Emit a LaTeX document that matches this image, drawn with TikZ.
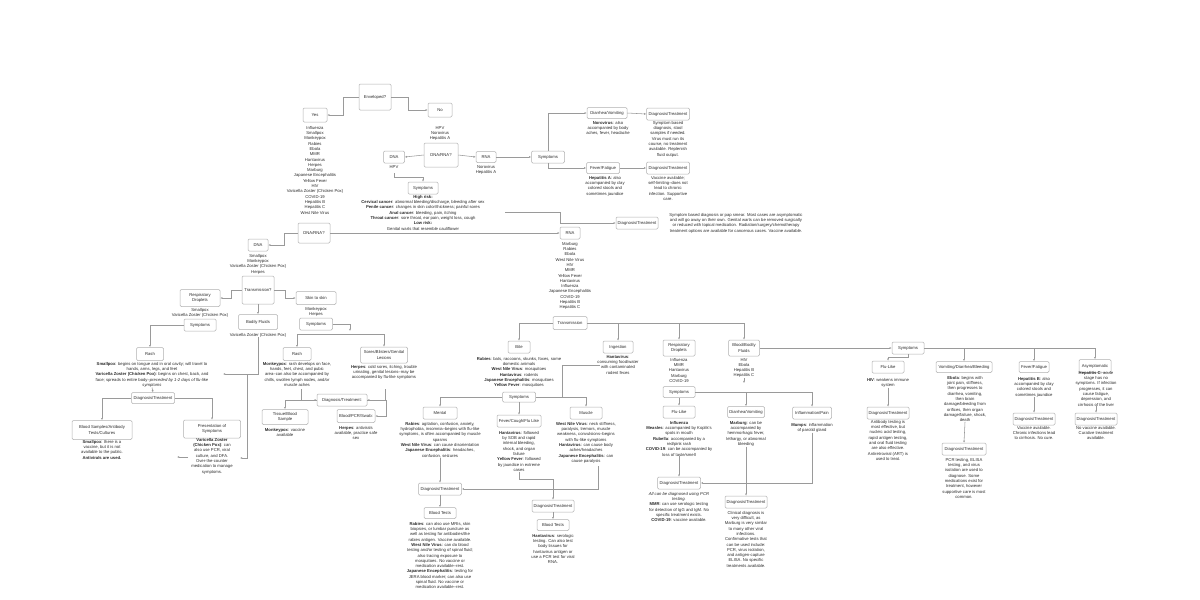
\documentclass[tikz,border=0pt]{standalone}
\usepackage{fontspec}
\setmainfont{Liberation Sans}
\usetikzlibrary{arrows.meta}
\newcommand\fs{\fontsize{4.2}{5.3}\selectfont}
\definecolor{lc}{HTML}{9A9A9A}
\definecolor{bc}{HTML}{B0B0B0}
\definecolor{tc}{HTML}{2B2B2B}
\tikzset{
 box/.style={draw=bc, line width=0.5pt, rounded corners=1.2pt, fill=white, font=\fs, text=tc, align=center, inner sep=0.5pt},
 txt/.style={font=\fs, text=tc, align=center, inner sep=0pt, anchor=north, yshift=2pt},
 ln/.style={draw=lc, line width=0.55pt},
 arr/.style={ln, -{Latex[length=2.2pt,width=2pt]}},
}
\newcommand\bx[6]{\node[box,minimum width=#4pt,minimum height=#5pt] (#1) at (#2,#3) {#6};}
\begin{document}
\begin{tikzpicture}[x=1pt,y=-1pt]
\fill[white] (0,0) rectangle (1200,600);
\useasboundingbox (0,0) rectangle (1200,600);
% ---------- boxes ----------
\bx{env}{375}{97}{32}{26}{Enveloped?}
\bx{yes}{315}{115}{24}{14}{Yes}
\bx{no}{440}{110}{24}{14}{No}
\bx{dnarna1}{441}{155}{34}{24}{DNA/RNA?}
\bx{dna1}{394}{157}{21}{12}{DNA}
\bx{rna1}{486}{157}{20}{11}{RNA}
\bx{sym1}{548}{157}{33}{12}{Symptoms}
\bx{dv1}{607}{113}{40}{11}{Diarrhea/Vomiting}
\bx{ff1}{603}{168}{33}{11}{Fever/Fatigue}
\bx{dt1}{668}{114}{43}{12}{Diagnosis/Treatment}
\bx{dt2}{668}{168}{43}{12}{Diagnosis/Treatment}
\bx{symhpv}{423}{188}{30}{12}{Symptoms}
\bx{dthpv}{637}{223}{42}{12}{Diagnosis/Treatment}
\bx{dnarna2}{314}{233}{32}{20}{DNA/RNA?}
\bx{rna2}{570}{233}{20}{12}{RNA}
\bx{dna2}{258}{245}{20}{12}{DNA}
\bx{trans1}{258}{290}{32}{28}{Transmission?}
\bx{resp1}{200}{298}{40}{17}{Respiratory\\Droplets}
\bx{skin}{316}{298}{40}{13}{Skin to skin}
\bx{bf}{258}{322}{39}{15}{Bodily Fluids}
\bx{symresp}{200}{325}{32}{12}{Symptoms}
\bx{symskin}{316}{324}{33}{12}{Symptoms}
\bx{rashL}{150}{354}{27}{13}{Rash}
\bx{rashM}{297}{354}{28}{13}{Rash}
\bx{sores}{384}{355}{47}{16}{Sores/Blisters/Genital\\Lesions}
\bx{dtL}{153}{398}{43}{11}{Diagnosis/Treatment}
\bx{dtM}{342}{400}{50}{12}{Diagnosis/Treatment:}
\bx{bsamp}{102}{430}{60}{19}{Blood Samples/Antibody\\Tests/Cultures}
\bx{pres}{212}{429}{57}{18}{Presentation of\\Symptoms}
\bx{tissue}{285}{417}{46}{15}{Tissue/Blood\\Sample}
\bx{bpcr}{356}{416}{38}{13}{Blood/PCR/Swab:}
\bx{trans2}{570}{323}{34}{13}{Transmission}
\bx{bite}{519}{347}{22}{12}{Bite}
\bx{ingest}{618}{347}{30}{12}{Ingestion}
\bx{respL}{679}{348}{32}{16}{Respiratory\\Droplets}
\bx{bbf}{744}{348}{31}{16}{Blood/Bodily\\Fluids}
\bx{sym3}{519}{397}{33}{10}{Symptoms}
\bx{mental}{440}{413}{34}{12}{Mental}
\bx{fcf}{519}{421}{44}{12}{Fever/Cough/Flu Like}
\bx{muscle}{586}{413}{32}{12}{Muscle}
\bx{dtMen}{440}{489}{43}{12}{Diagnosis/Treatment}
\bx{dtFev}{553}{506}{42}{12}{Diagnosis/Treatment}
\bx{btMen}{440}{513}{32}{11}{Blood Tests}
\bx{btFev}{553}{525}{32}{11}{Blood Tests}
\bx{sym4}{679}{392}{32}{11}{Symptoms}
\bx{fluL}{679}{412}{32}{12}{Flu-Like}
\bx{dvL}{746}{412}{37}{11}{Diarrhea/Vomiting}
\bx{infl}{812}{413}{39}{12}{Inflammation/Pain}
\bx{dtFlu}{679}{483}{43}{12}{Diagnosis/Treatment}
\bx{dtMar}{746}{502}{42}{12}{Diagnosis/Treatment}
\bx{sym5}{908}{348}{32}{12}{Symptoms}
\bx{flu5}{888}{367}{32}{12}{Flu-Like}
\bx{vdb}{964}{367}{56}{11}{Vomiting/Diarrhea/Bleeding}
\bx{ff5}{1034}{367}{30}{11}{Fever/Fatigue}
\bx{asym}{1095}{366}{32}{13}{Asymptomatic}
\bx{dtHIV}{888}{413}{42}{12}{Diagnosis/Treatment}
\bx{dtEb}{964}{449}{44}{12}{Diagnosis/Treatment}
\bx{dtHB}{1034}{419}{42}{12}{Diagnosis/Treatment}
\bx{dtHC}{1096}{419}{42}{12}{Diagnosis/Treatment}
% ---------- texts ----------
\node[txt] (tYes) at (315,128) {Influenza\\Smallpox\\Monkeypox\\Rabies\\Ebola\\MMR\\Hantavirus\\Herpes\\Marburg\\Japanese Encephalitis\\Yellow Fever\\HIV\\Varicella Zoster (Chicken Pox)\\COVID-19\\Hepatitis B\\Hepatitis C\\West Nile Virus};
\node[txt] (tNo) at (440,128) {HPV\\Norovirus\\Hepatitis A};
\node[txt] (tHPV) at (394,167) {HPV};
\node[txt] (tRNA1) at (486,167) {Norovirus\\Hepatitis A};
\node[txt] (tNoro) at (608,123) {\textbf{Norovirus}: also\\accompanied by body\\aches, fever, headache};
\node[txt] (tHepA) at (605,178) {\textbf{Hepatitis A}: also\\accompanied by clay\\colored stools and\\sometimes jaundice};
\node[txt] (tDT1) at (668,123) {Symptom based\\diagnosis, stool\\samples if needed.\\Virus must run its\\course, no treatment\\available. Replenish\\fluid output.};
\node[txt] (tDT2) at (668,178) {Vaccine available;\\self-limiting--does not\\lead to chronic\\infection. Supportive\\care.};
\node[txt] (tHigh) at (423,197) {\textbf{High risk:}\\\textbf{Cervical cancer}: abnormal bleeding/discharge, bleeding after sex\\\textbf{Penile cancer}: changes in skin color/thickness; painful sores\\\textbf{Anal cancer}: bleeding, pain, itching\\\textbf{Throat cancer}: sore throat, ear pain, weight loss, cough\\\textbf{Low risk:}\\Genital warts that resemble cauliflower};
\node[txt] (tHPVdt) at (736,215) {Symptom based diagnosis or pap smear. Most cases are asymptomatic\\and will go away on their own. Genital warts can be removed surgically\\or reduced with topical medication. Radiation/surgery/chemotherapy\\treatment options are available for cancerous cases. Vaccine available.};
\node[txt] (tDNA2) at (258,256) {Smallpox\\Monkeypox\\Varicella Zoster (Chicken Pox)\\Herpes};
\node[txt] (tResp1) at (200,310) {Smallpox\\Varicella Zoster (Chicken Pox)};
\node[txt] (tSkin) at (316,309) {Monkeypox\\Herpes};
\node[txt] (tBF) at (258,335) {Varicella Zoster (Chicken Pox)};
\node[txt] (tSmall) at (152,364) {\textbf{Smallpox}: begins on tongue and in oral cavity; will travel to\\hands, arms, legs, and feet\\\textbf{Varicella Zoster (Chicken Pox)}: begins on chest, back, and\\face; spreads to entire body--\textit{preceded by 1-2 days of flu-like}\\\textit{symptoms}};
\node[txt] (tMonk) at (297,364) {\textbf{Monkeypox}: rash develops on face,\\hands, feet, chest, and pubic\\area--can also be accompanied by\\chills, swollen lymph nodes, and/or\\muscle aches};
\node[txt] (tHerp) at (384,367) {\textbf{Herpes}: cold sores, itching, trouble\\urinating, genital lesions--may be\\accompanied by flu-like symptoms};
\node[txt] (tTiss) at (285,430) {\textbf{Monkeypox}: vaccine\\available};
\node[txt] (tBpcr) at (356,428) {\textbf{Herpes}: antivirals\\available, practice safe\\sex};
\node[txt] (tBsamp) at (102,442) {\textbf{Smallpox}: there is a\\vaccine, but it is not\\available to the public.\\\textbf{Antivirals are used.}};
\node[txt] (tPres) at (212,440) {\textbf{Varicella Zoster}\\\textbf{(Chicken Pox)}: can\\also use PCR, viral\\culture, and DFA.\\Over-the-counter\\medication to manage\\symptoms.};
\node[txt] (tRNA2) at (570,244) {Marburg\\Rabies\\Ebola\\West Nile Virus\\HIV\\MMR\\Yellow Fever\\Hantavirus\\Influenza\\Japanese Encephalitis\\COVID-19\\Hepatitis B\\Hepatitis C};
\node[txt] (tBite) at (519,359) {\textbf{Rabies}: bats, raccoons, skunks, foxes, some\\domestic animals\\\textbf{West Nile Virus}: mosquitoes\\\textbf{Hantavirus}: rodents\\\textbf{Japanese Encephalitis}: mosquitoes\\\textbf{Yellow Fever}: mosquitoes};
\node[txt] (tIng) at (618,357) {\textbf{Hantavirus}:\\consuming food/water\\with contaminated\\rodent feces};
\node[txt] (tResp2) at (679,360) {Influenza\\MMR\\Hantavirus\\Marburg\\COVID-19};
\node[txt] (tBBF) at (744,360) {HIV\\Ebola\\Hepatitis B\\Hepatitis C};
\node[txt] (tMental) at (440,424) {\textbf{Rabies}: agitation, confusion, anxiety,\\hydrophobia, insomnia--begins with flu-like\\symptoms, is often accompanied by muscle\\spasms\\\textbf{West Nile Virus}: can cause disorientation\\\textbf{Japanese Encephalitis}: headaches,\\confusion, seizures};
\node[txt] (tFcf) at (519,433) {\textbf{Hantavirus}: followed\\by SOB and rapid\\internal bleeding,\\shock, and organ\\failure\\\textbf{Yellow Fever}: followed\\by jaundice in extreme\\cases};
\node[txt] (tMuscle) at (586,424) {\textbf{West Nile Virus}: neck stiffness,\\paralysis, tremors, muscle\\weakness, convulsions--begins\\with flu-like symptoms\\\textbf{Hantavirus}: can cause body\\aches/headaches\\\textbf{Japanese Encephalitis}: can\\cause paralysis};
\node[txt] (tBtMen) at (440,524) {\textbf{Rabies}: can also use MRIs, skin\\biopsies, or lumbar puncture as\\well as testing for antibodies/the\\rabies antigen. Vaccine available.\\\textbf{West Nile Virus}: can do blood\\testing and/or testing of spinal fluid;\\also tracing exposure to\\mosquitoes. No vaccine or\\medication available--rest.\\\textbf{Japanese Encephalitis}: testing for\\JERA blood marker; can also use\\spinal fluid. No vaccine or\\medication available--rest.};
\node[txt] (tBtFev) at (553,536) {\textbf{Hantavirus}: serologic\\testing. Can also test\\body tissues for\\hantavirus antigen or\\use a PCR test for viral\\RNA.};
\node[txt] (tFlu) at (679,423) {\textbf{Influenza}\\\textbf{Measles}: accompanied by Koplik's\\spots in mouth\\\textbf{Rubella}: accompanied by a\\red/pink rash\\\textbf{COVID-19}: can be accompanied by\\loss of taste/smell};
\node[txt] (tMar) at (746,423) {\textbf{Marburg}: can be\\accompanied by\\hemmorhagic fever,\\lethargy, or abnormal\\bleeding};
\node[txt] (tMumps) at (812,425) {\textbf{Mumps}: inflammation\\of parotid gland};
\node[txt] (tDtFlu) at (679,494) {\textit{All can be diagnosed using PCR}\\\textit{testing.}\\\textbf{MMR}: can use serologic testing\\for detection of IgG and IgM. No\\specific treatment exists.\\\textbf{COVID-19}: vaccine available.};
\node[txt] (tDtMar) at (746,513) {Clinical diagnosis is\\very difficult, as\\Marburg is very similar\\to many other viral\\infections.\\Confirmative tests that\\can be used include:\\PCR, virus isolation,\\and antigen-capture\\ELISA. No specific\\treatments available.};
\node[txt] (tHIV) at (888,380) {\textbf{HIV}: weakens immune\\system};
\node[txt] (tEbola) at (965,378) {\textbf{Ebola}: begins with\\joint pain, stiffness,\\then progresses to\\diarrhea, vomiting,\\then brain\\damage/bleeding from\\orifices, then organ\\damage/failure, shock,\\death};
\node[txt] (tHepB) at (1034,379) {\textbf{Hepatitis B}: also\\accompanied by clay\\colored stools and\\sometimes jaundice};
\node[txt] (tHepC) at (1096,373) {\textbf{Hepatitis C}: acute\\stage has no\\symptoms. If infection\\progresses, it can\\cause fatigue,\\depression, and\\cirrhosis of the liver};
\node[txt] (tDtHIV) at (888,422) {Antibody testing is\\most effective, but\\nucleic acid testing,\\rapid antigen testing,\\and oral fluid testing\\are also effective.\\Antiretroviral (ART) is\\used to treat.};
\node[txt] (tDtEb) at (964,460) {PCR testing, ELISA\\testing, and virus\\isolation are used to\\diagnose. Some\\medications exist for\\treatment, however\\supportive care is most\\common.};
\node[txt] (tDtHB) at (1034,428) {Vaccine available.\\Chronic infections lead\\to cirrhosis. No cure.};
\node[txt] (tDtHC) at (1096,428) {No vaccine available.\\Curative treatment\\available.};
% ---------- coordinates ----------
\coordinate (hrA) at (505,212);
\coordinate (brC) at (350,331);
\coordinate (brL) at (297,334);
\coordinate (brR) at (384,334);
\coordinate (mkA) at (301,389);
\coordinate (hpA) at (385,389);
\coordinate (smR) at (223,374);
\coordinate (bfJ) at (247,374);
\coordinate (presR) at (240,458);
\coordinate (sa1) at (188,457);
\coordinate (sa2) at (177,457);
\coordinate (ingA) at (600,365);
\coordinate (ingB) at (562,397);
\coordinate (muA) at (598,466);
% ---------- connectors ----------
\draw[arr] (env.west) -- ++(-15,0) |- (yes.east);
\draw[arr] (env.east) -- ++(17,0) |- (no.west);
\draw[arr] (dnarna1.west) -- (dna1.east);
\draw[arr] (dnarna1.east) -- (rna1.west);
\draw[arr] (rna1.east) -- (sym1.west);
\draw[arr] (sym1.north) |- (dv1.west);
\draw[arr] (sym1.south) |- (ff1.west);
\draw[arr] (dv1.east) -- (dt1.west);
\draw[arr] (ff1.east) -- (dt2.west);
\draw[arr] ([yshift=-5pt]tHPV.south) -- ++(0,4) -| (symhpv.north);
\draw[arr] (hrA) -- ++(55,0) |- (dthpv.west);
\draw[arr] (dnarna2.east) -- (rna2.west);
\draw[arr] (dnarna2.west) -- ++(-13,0) |- (dna2.east);
\draw[arr] (trans1.west) -- ++(-10,0) |- (resp1.east);
\draw[arr] (trans1.east) -- ++(11,0) |- (skin.west);
\draw[arr] (trans1.south) -- (bf.north);
\draw[arr] (symresp.west) -| (rashL.north);
\draw[arr] (symskin.east) -| (brC);
\draw[ln] (brL) -- (brR);
\draw[arr] (brL) -- (rashM.north);
\draw[arr] (brR) -- (sores.north);
\draw[arr] (mkA) |- (dtM.west);
\draw[arr] (dtM.west) -| (tissue.north);
\draw[arr] (hpA) |- (dtM.east);
\draw[arr] (dtM.east) -- ++(19,0) |- (bpcr.east);
\draw[arr] (tBF.south) |- (smR);
\draw[arr] (bfJ) |- (presR);
\draw[arr] (sa1) -- (sa2);
\draw[arr] (tSmall.south) -- (dtL.north);
\draw[arr] (dtL.west) -| (bsamp.north);
\draw[arr] (dtL.east) -| (pres.north);
\draw[arr] (trans2.west) -| (bite.north);
\draw[arr] (trans2.east) -| (bbf.north);
\draw[arr] (ingest.north |- trans2.east) -- (ingest.north);
\draw[arr] (respL.north |- trans2.east) -- (respL.north);
\draw[ln] (ingA) -| (ingB);
\draw[arr] (sym3.west) -| (mental.north);
\draw[arr] (sym3.south) -- (fcf.north);
\draw[arr] (sym3.east) -| (muscle.north);
\draw[arr] (tMental.south) -- (dtMen.north);
\draw[arr] (tFcf.south) -- ++(0,8) -| (dtFev.north);
\draw[arr] (muA) |- (dtMen.east);
\draw[arr] (dtMen.south) -- (btMen.north);
\draw[arr] (dtFev.south) -- (btFev.north);
\draw[arr] (bbf.east) -- (sym5.west);
\draw[arr] (tBBF.south) -- ++(0,5);
\draw[arr] (sym4.south) -- (fluL.north);
\draw[arr] (sym4.east) -| (infl.north);
\draw[arr] (dvL.north |- sym4.east) -- (dvL.north);
\draw[arr] (tFlu.south) -- (dtFlu.north);
\draw[arr] (tMar.south) -- (dtMar.north);
\draw[arr] (tMumps.south) |- (dtFlu.east);
\draw[arr] (sym5.south) -- ++(0,3) -| (flu5.north);
\draw[arr] (sym5.east) -| (asym.north);
\draw[arr] (vdb.north |- sym5.east) -- (vdb.north);
\draw[arr] (ff5.north |- sym5.east) -- (ff5.north);
\draw[arr] (tHIV.south) -- (dtHIV.north);
\draw[arr] (tEbola.south) -- (dtEb.north);
\draw[arr] (tHepB.south) -- (dtHB.north);
\draw[arr] (tHepC.south) -- (dtHC.north);
\end{tikzpicture}
\end{document}
